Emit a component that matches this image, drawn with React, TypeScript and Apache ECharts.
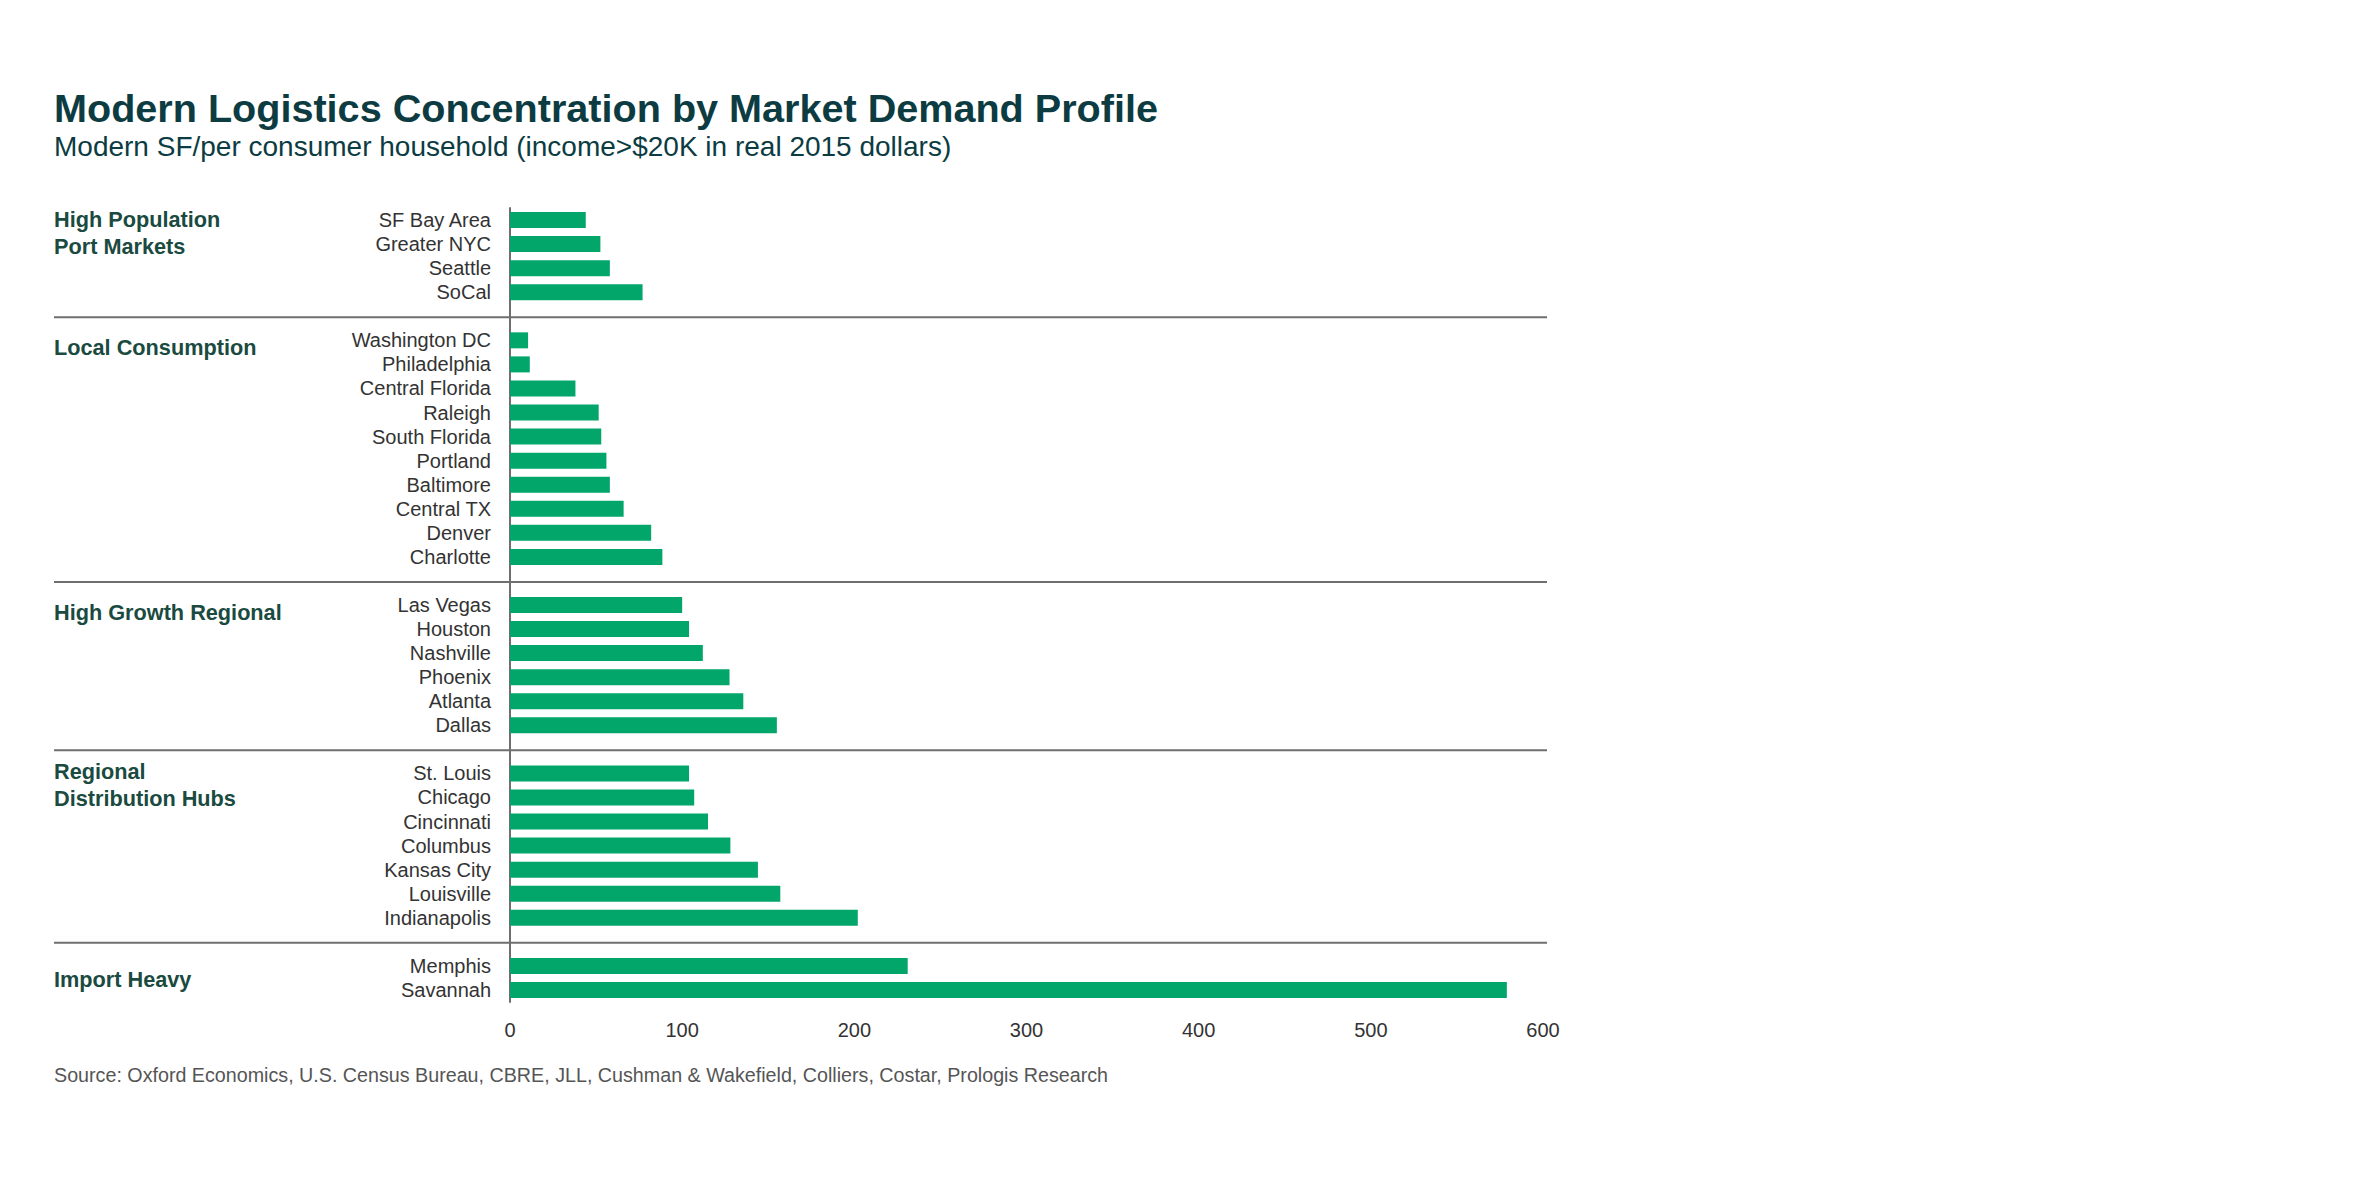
import React, { useEffect, useRef } from "react";
import * as echarts from "echarts";

// ---- Data ----
const groupLabels = [
  "High Population\nPort Markets",
  "Local Consumption",
  "High Growth Regional",
  "Regional\nDistribution Hubs",
  "Import Heavy",
];

const portMarkets = ["SF Bay Area", "Greater NYC", "Seattle", "SoCal"];
const portValues = [44, 52.5, 58, 77];

const localMarkets = [
  "Washington DC",
  "Philadelphia",
  "Central Florida",
  "Raleigh",
  "South Florida",
  "Portland",
  "Baltimore",
  "Central TX",
  "Denver",
  "Charlotte",
];
const localValues = [10.5, 11.5, 38, 51.5, 53, 56, 58, 66, 82, 88.5];

const growthMarkets = ["Las Vegas", "Houston", "Nashville", "Phoenix", "Atlanta", "Dallas"];
const growthValues = [100, 104, 112, 127.5, 135.5, 155];

const hubMarkets = [
  "St. Louis",
  "Chicago",
  "Cincinnati",
  "Columbus",
  "Kansas City",
  "Louisville",
  "Indianapolis",
];
const hubValues = [104, 107, 115, 128, 144, 157, 202];

const importMarkets = ["Memphis", "Savannah"];
const importValues = [231, 579];

const xTicks = [0, 100, 200, 300, 400, 500, 600];

const titleText = "Modern Logistics Concentration by Market Demand Profile";
const subtitleText = "Modern SF/per consumer household (income>$20K in real 2015 dollars)";
const sourceText =
  "Source: Oxford Economics, U.S. Census Bureau, CBRE, JLL, Cushman & Wakefield, Colliers, Costar, Prologis Research";

const groupMarkets = [portMarkets, localMarkets, growthMarkets, hubMarkets, importMarkets];
const groupValues = [portValues, localValues, growthValues, hubValues, importValues];

// ---- Build axis categories with separator slots ----
const SEP = "__sep";
const categories: string[] = [];
const values: (number | null)[] = [];
const sepKeys: string[] = [];
groupMarkets.forEach((mk, gi) => {
  if (gi > 0) {
    const k = SEP + gi;
    sepKeys.push(k);
    categories.push(k);
    values.push(null);
  }
  mk.forEach((m, i) => {
    categories.push(m);
    values.push(groupValues[gi][i]);
  });
});

const FONT = "'Liberation Sans', Arial, Helvetica, sans-serif";
const TITLE_COLOR = "#0c3c42";
const GROUP_COLOR = "#1a4a40";
const BAR_COLOR = "#02a66a";
const LINE_COLOR = "#6f6f6f";

// group label first-line centre (px)
const groupLabelY = [219, 347, 612, 771, 979];

export default function App() {
  const ref = useRef<HTMLDivElement>(null);
  useEffect(() => {
    document.body.style.margin = "0";
    document.body.style.overflow = "hidden";
    if (!ref.current) return;
    const chart = echarts.init(ref.current, undefined, { renderer: "svg" });
    const option: any = {
      animation: false,
      backgroundColor: "#ffffff",
      grid: { left: 510, right: 817, top: 208, bottom: 178, containLabel: false },
      xAxis: {
        type: "value",
        min: xTicks[0],
        max: xTicks[xTicks.length - 1],
        interval: 100,
        axisLine: { show: false },
        axisTick: { show: false },
        splitLine: { show: false },
        axisLabel: {
          color: "#333333",
          fontSize: 20,
          fontFamily: FONT,
          margin: 18,
        },
      },
      yAxis: {
        type: "category",
        inverse: true,
        data: categories,
        axisLine: { show: true, lineStyle: { color: LINE_COLOR, width: 2 } },
        axisTick: { show: false },
        splitLine: { show: false },
        axisLabel: {
          interval: 0,
          color: "#333333",
          fontSize: 20,
          fontFamily: FONT,
          margin: 19,
          formatter: (v: string) => (v.startsWith(SEP) ? "" : v),
        },
      },
      series: [
        {
          type: "bar",
          data: values,
          barWidth: 16,
          itemStyle: { color: BAR_COLOR },
        },
      ],
    };
    chart.setOption(option);

    const sepYs = sepKeys.map((k) => chart.convertToPixel({ yAxisIndex: 0 }, k) as number);
    const graphic: any[] = [
      {
        type: "text",
        x: 54,
        y: 108,
        style: {
          text: titleText,
          fill: TITLE_COLOR,
          font: `bold 39.6px ${FONT}`,
          verticalAlign: "middle",
        },
      },
      {
        type: "text",
        x: 54,
        y: 146,
        style: {
          text: subtitleText,
          fill: TITLE_COLOR,
          font: `28px ${FONT}`,
          verticalAlign: "middle",
        },
      },
      {
        type: "text",
        x: 54,
        y: 1075,
        style: {
          text: sourceText,
          fill: "#555555",
          font: `19.7px ${FONT}`,
          verticalAlign: "middle",
        },
      },
    ];
    sepYs.forEach((y) => {
      graphic.push({
        type: "line",
        shape: { x1: 54, y1: y + 1, x2: 1547, y2: y + 1 },
        style: { stroke: LINE_COLOR, lineWidth: 2 },
      });
    });
    groupLabels.forEach((g, i) => {
      graphic.push({
        type: "text",
        x: 54,
        y: groupLabelY[i] - 13,
        style: {
          text: g,
          fill: GROUP_COLOR,
          font: `bold 21.7px ${FONT}`,
          lineHeight: 27,
          verticalAlign: "top",
        },
      });
    });
    chart.setOption({ graphic });

    return () => chart.dispose();
  }, []);
  return <div ref={ref} style={{ width: 2360, height: 1180 }} />;
}
